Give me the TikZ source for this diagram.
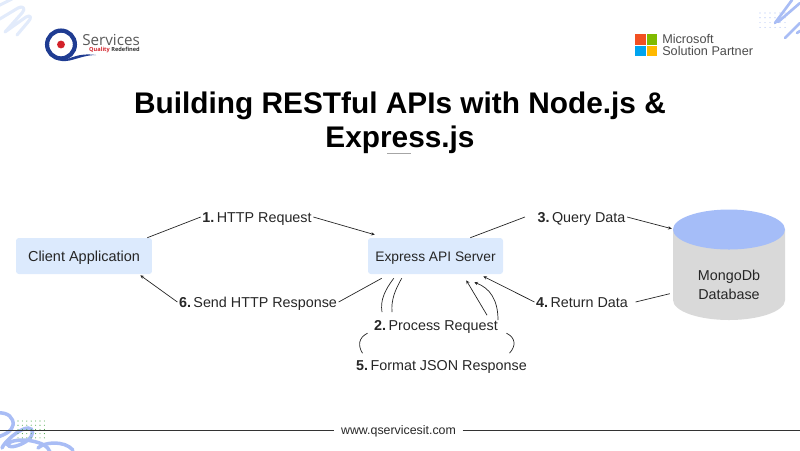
\documentclass[tikz,border=0pt]{standalone}
\usepackage{fontspec}
\setmainfont{Liberation Sans}
\newfontfamily\logofont{Open Sans}
\usetikzlibrary{arrows.meta}
\definecolor{boxblue}{HTML}{DCEAFD}
\definecolor{dbtop}{HTML}{A5BDF8}
\definecolor{dbbody}{HTML}{D9D9D9}
\definecolor{swirl}{HTML}{A9BDF5}
\definecolor{swirllight}{HTML}{E2EBFB}
\definecolor{logoblue}{HTML}{1F3C92}
\definecolor{logored}{HTML}{D3222A}
\definecolor{msred}{HTML}{F25022}
\definecolor{msgreen}{HTML}{7FBA00}
\definecolor{msblue}{HTML}{00A4EF}
\definecolor{msyellow}{HTML}{FFB900}
\newcommand{\stepnum}[1]{\textbf{#1}\hspace{0.17em}}
\tikzset{
    appbox/.style={rectangle, rounded corners=2pt, fill=boxblue, text=black!85, font=\fontsize{10.3}{12}\selectfont, minimum height=25.6pt, inner sep=0pt, text height=7.3pt, text depth=0pt},
    steplabel/.style={text=black!85, font=\fontsize{10.2}{12}\selectfont, inner sep=1pt, text height=7.3pt, text depth=0pt},
    flow/.style={draw=black!85, line width=0.5pt},
    flowtip/.style={flow, -{Stealth[length=2.6pt,width=2.4pt]}}
}
\begin{document}
\begin{tikzpicture}[x=0.025cm, y=-0.025cm]
    \useasboundingbox (0,0) rectangle (800,450);

    % Corner swirls
    \draw[swirllight, line width=2.2pt, line cap=round, line join=round] (-2,20) -- (18,8) .. controls (23,5) and (26,9) .. (22,13) -- (5,32) -- (26,17) .. controls (31,14) and (32,18) .. (28,22) -- (17,35);
    \draw[swirllight, line width=2.2pt, line cap=round] (-2,6) -- (12,-1);
    \foreach \xa/\ya/\xb/\yb in {775/23/792/0, 778/22/800/3, 785/38/800/23, 797/33/800/31}{
        \draw[swirl, line width=1.9pt, line cap=round] (\xa,\ya) -- (\xb,\yb);
    }
    \foreach \i in {0,...,5}{
        \foreach \j in {0,...,3}{
            \fill[swirl] (760+5*\i,13+4.8*\j) circle (0.42pt);
        }
    }
    \draw[swirl, line width=2.5pt, line cap=round] (-2,413) .. controls (8,412) and (14,418) .. (13,425) .. controls (12,431) and (6,434) .. (-2,437);
    \draw[swirl, line width=2.5pt, line cap=round] (2,448) .. controls (4,442) and (20,428) .. (28,428) .. controls (34,428) and (34,435) .. (28,440) .. controls (22,445) and (10,449) .. (8,445) .. controls (8,440) and (24,439) .. (32,441) .. controls (42,443) and (48,446) .. (50,452);
    \draw[swirl, line width=2.5pt, line cap=round] (38,448) .. controls (44,442) and (64,440) .. (73,450);
    \foreach \i in {0,...,6}{
        \foreach \j in {0,...,4}{
            \fill[green!50!black!70] (18+4.4*\i,421+4.2*\j) circle (0.4pt);
        }
    }

    % Q Services logo
    \node[circle, draw=logoblue, line width=3pt, minimum size=19.8pt, inner sep=0pt] (qring) at (61,44.5) {};
    \node[circle, fill=logored, minimum size=5.6pt, inner sep=0pt] (qdot) at (61,44.5) {};
    \fill[logoblue] (58,60) .. controls (68,62) and (74,52) .. (96,55) .. controls (82,55) and (72,62) .. (62,61) -- cycle;
    \node[anchor=west, inner sep=0pt, text=black!65, font=\logofont\fontsize{10.8}{12}\selectfont] (qname) at (82,40) {Services};
    \node[anchor=east, inner sep=0pt, font=\logofont\bfseries\fontsize{4}{5}\selectfont] (qslogan) at (140,50) {\textcolor{logored}{Quality} \textcolor{black!80}{Redefined}};

    % Microsoft logo
    \fill[msred] (635,34) rectangle (645.5,44.5);
    \fill[msgreen] (646.5,34) rectangle (657,44.5);
    \fill[msblue] (635,45.5) rectangle (645.5,56);
    \fill[msyellow] (646.5,45.5) rectangle (657,56);
    \node[anchor=west, inner sep=0pt, text=black!70, font=\fontsize{9}{9}\selectfont] (msname) at (662,39) {Microsoft};
    \node[anchor=west, inner sep=0pt, text=black!70, font=\fontsize{9}{9}\selectfont] (mspartner) at (662,50.5) {Solution Partner};

    % Title
    \node[align=center, text=black, font=\bfseries\fontsize{21.2}{24.3}\selectfont, inner sep=0pt] (title) at (400,122.5) {Building RESTful APIs with Node.js \&\\Express.js};
    \draw[black!35, line width=0.4pt] (387,153.5) -- (411,153.5);

    % Boxes
    \node[appbox, minimum width=96.7pt] (client) at (84,256) {Client Application};
    \node[appbox, minimum width=96pt, font=\fontsize{9.8}{12}\selectfont] (server) at (435.5,256) {Express API Server};
    % Database drum
    \fill[dbbody] (673,229.5) -- (673,300) arc[start angle=180, end angle=360, x radius=1.4cm, y radius=0.5cm] -- (785,229.5) -- cycle;
    \fill[dbtop] (729,229.5) ellipse [x radius=1.4cm, y radius=0.5cm];
    \node[align=center, text=black!85, font=\fontsize{10.2}{13.5}\selectfont, inner sep=0pt, minimum width=79.6pt, minimum height=49.8pt] (mongo) at (729,285) {MongoDb\\Database};

    % Step labels
    \node[steplabel] (step1) at (257,217) {\stepnum{1.}HTTP Request};
    \node[steplabel] (step2) at (436,325) {\stepnum{2.}Process Request};
    \node[steplabel] (step3) at (581.5,217) {\stepnum{3.}Query Data};
    \node[steplabel] (step4) at (582,302) {\stepnum{4.}Return Data};
    \node[steplabel] (step5) at (441.5,365) {\stepnum{5.}Format JSON Response};
    \node[steplabel] (step6) at (258,302) {\stepnum{6.}Send HTTP Response};

    % Connectors
    \draw[flow] ([shift={(-5,0)}]client.north east) -- (step1.west);
    \draw[flowtip] (step1.east) -- ([shift={(7,-3)}]server.north west);
    \draw[flow] ([shift={(-33,0)}]server.north east) -- ([shift={(-11,0)}]step3.west);
    \draw[flowtip] (step3.east) -- ([shift={(-1,-21)}]mongo.north west);
    \draw[flow] ([shift={(-3,44)}]mongo.north west) -- ([shift={(6,0)}]step4.east);
    \draw[flowtip] (step4.west) -- ([shift={(-20,2)}]server.south east);
    \draw[flow] ([shift={(14,4)}]server.south west) -- (step6.east);
    \draw[flowtip] (step6.west) -- ([shift={(-12,1)}]client.south east);
    % Process and format loops
    \draw[flow] ([shift={(26,4)}]server.south west) .. controls (385,290) and (380,300) .. ([shift={(-54,-6)}]step2.north);
    \draw[flow] ([shift={(34,4)}]server.south west) .. controls (395,290) and (391,300) .. ([shift={(-44,-6)}]step2.north);
    \draw[flowtip] ([shift={(51,-3)}]step2.north) -- ([shift={(-37,6)}]server.south east);
    \draw[flowtip] ([shift={(62,2)}]step2.north) .. controls (498,300) and (490,288) .. ([shift={(-29,8)}]server.south east);
    \draw[flow] ([shift={(-74,-25)}]step5.north) .. controls (358,338) and (358,346) .. ([shift={(-79,-5)}]step5.north);
    \draw[flow] ([shift={(65,-25)}]step5.north) .. controls (516,338) and (516,346) .. ([shift={(68,-5)}]step5.north);

    % Footer
    \node[text=black!85, font=\fontsize{8.8}{10}\selectfont, inner sep=0pt, text height=6.4pt, text depth=0pt] (footer) at (398.5,430) {www.qservicesit.com};
    \coordinate (footleft) at (0,430);
    \coordinate (footright) at (800,430);
    \draw[black!80, line width=0.6pt] (footleft) -- ([xshift=-4.5pt]footer.west);
    \draw[black!80, line width=0.6pt] ([xshift=4.5pt]footer.east) -- (footright);
\end{tikzpicture}
\end{document}
